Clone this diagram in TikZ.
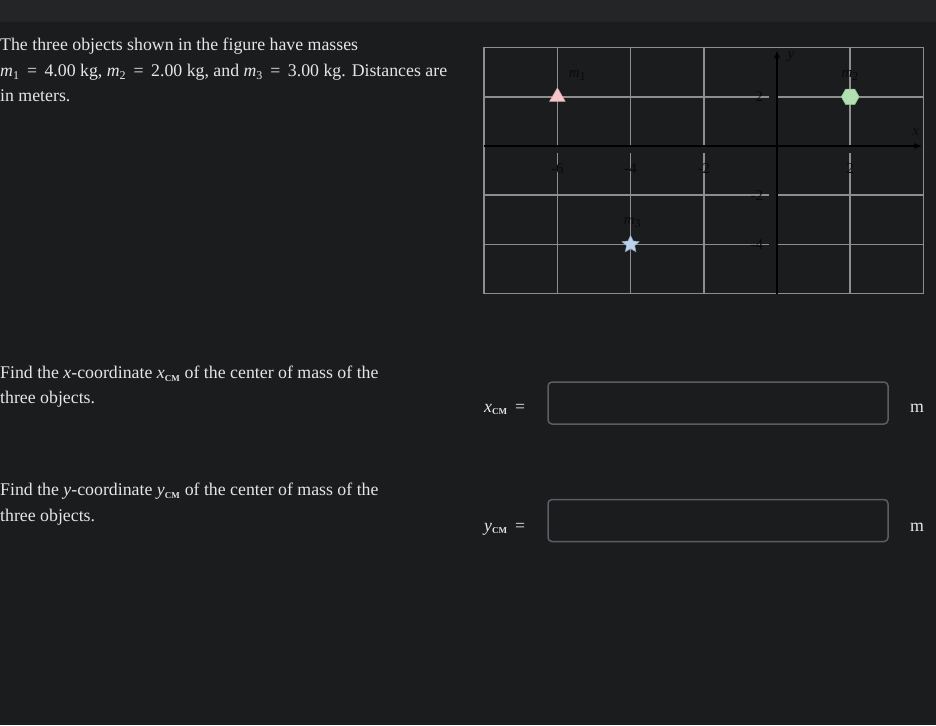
\documentclass[tikz,border=0pt]{standalone}
\usepackage{fontspec}
\setmainfont{Liberation Serif}
\usetikzlibrary{shapes.geometric,arrows.meta}
\definecolor{pagebg}{HTML}{1B1C1E}
\definecolor{topbar}{HTML}{242527}
\definecolor{txt}{HTML}{E6E6E6}
\definecolor{gridc}{HTML}{8E8E8E}
\definecolor{darktxt}{HTML}{0A0A0A}
\definecolor{boxc}{HTML}{5A5E63}
\definecolor{pinkf}{HTML}{F7C6C8}
\definecolor{pinkd}{HTML}{D9A2A6}
\definecolor{greenf}{HTML}{B2E0B2}
\definecolor{greend}{HTML}{8CBF8C}
\definecolor{bluef}{HTML}{BCD3EA}
\definecolor{blued}{HTML}{8EA7C2}
\newcommand\mv[2]{\textit{#1}\textsubscript{\fontsize{12}{12}\selectfont #2}}
\newcommand\cmv[1]{\textit{#1}\textsubscript{\fontsize{9}{9}\selectfont\bfseries CM}}
\newcommand\eqs{\hspace{0.42em}=\hspace{0.42em}}
\begin{document}
\begin{tikzpicture}[x=1pt,y=-1pt,
  body/.style={anchor=base west, text=txt, font=\fontsize{17.8}{20}\selectfont, inner sep=0pt},
  inbox/.style={draw=boxc, line width=1.5pt, rounded corners=4pt, minimum width=340pt, minimum height=42pt, inner sep=0pt},
  gridl/.style={draw=gridc, line width=1.6pt},
  axisl/.style={draw=black, line width=2.2pt},
  tick/.style={text=darktxt, font=\fontsize{15}{15}\selectfont, inner sep=0pt},
  mlab/.style={text=darktxt, font=\fontsize{15}{15}\selectfont, inner sep=0pt},
  tri/.style={regular polygon, regular polygon sides=3, minimum size=18pt, inner sep=0pt, fill=pinkf, draw=pinkd, line width=0.5pt},
  hexa/.style={regular polygon, regular polygon sides=6, minimum size=18pt, inner sep=0pt, fill=greenf, draw=greend, line width=0.5pt},
  starm/.style={star, star points=5, star point ratio=2.1, minimum size=18pt, inner sep=0pt, fill=bluef, draw=blued, line width=0.5pt}]
\useasboundingbox (0,0) rectangle (936,725);
\fill[pagebg] (0,0) rectangle (936,725);
\fill[topbar] (0,0) rectangle (936,22);
% problem text
\node[body] (t1) at (0,50.5) {The three objects shown in the figure have masses};
\node[body] (t2) at (0,76.5) {\mv{m}{1}\eqs 4.00 kg, \mv{m}{2}\eqs 2.00 kg, and \mv{m}{3}\eqs 3.00 kg. Distances are};
\node[body] (t3) at (0,101.5) {in meters.};
\node[body] (q1) at (0,378.5) {Find the \textit{x}-coordinate \cmv{x} of the center of mass of the};
\node[body] (q1b) at (0,403.5) {three objects.};
\node[body] (q2) at (0,495.5) {Find the \textit{y}-coordinate \cmv{y} of the center of mass of the};
\node[body] (q2b) at (0,521.5) {three objects.};
% answer rows
\node[body] (lx) at (484,412) {\cmv{x}\eqs};
\node[inbox] (bx) at (718,403) {};
\node[body] (ux) at (910,412) {m};
\node[body] (ly) at (484,531) {\cmv{y}\eqs};
\node[inbox] (by) at (718,520.5) {};
\node[body] (uy) at (910,531) {m};
% graph
\begin{scope}[shift={(777pt,-146pt)}, x=36.6pt, y=24.6pt]
  \foreach \gx in {-6,-4,-2,2} \draw[gridl] (\gx,-6) -- (\gx,4);
  \foreach \gy in {-4,-2,2} \draw[gridl] (-8,\gy) -- (4,\gy);
  \draw[gridl] (-8,-6) rectangle (4,4);
  \fill[pagebg] (-7.95,0) rectangle (3.95,-0.28);
  \fill[pagebg] (-0.22,-5.95) rectangle (0,3.95);
  \coordinate (xs) at (-8,0);
  \coordinate (xe) at (3.97,0);
  \coordinate (ys) at (0,-6);
  \coordinate (ye) at (0,3.9);
  \draw[axisl, -{Latex[length=8pt,width=6pt]}] (xs) -- (xe);
  \draw[axisl, -{Latex[length=8pt,width=6pt]}] (ys) -- (ye);
  \node[mlab, font=\fontsize{15}{15}\selectfont\itshape] (xl) at (3.79,0.57) {x};
  \node[mlab, font=\fontsize{15}{15}\selectfont\itshape] (yl) at (0.38,3.64) {y};
  \node[tick] (tx1) at (-6,-0.93) {-6};
  \node[tick] (tx2) at (-4,-0.93) {-4};
  \node[tick] (tx3) at (-2,-0.93) {-2};
  \node[tick] (tx4) at (2,-0.93) {2};
  \node[tick] (ty1) at (-0.49,2) {2};
  \node[tick] (ty2) at (-0.55,-2) {-2};
  \node[tick] (ty3) at (-0.55,-4) {-4};
  \node[tri] (p1) at (-6,2) {};
  \node[hexa] (p2) at (2,2) {};
  \node[starm] (p3) at (-4,-4) {};
  \node[mlab] (l1) at (-5.45,2.85) {\mv{m}{1}};
  \node[mlab] (l2) at (2.0,2.85) {\mv{m}{2}};
  \node[mlab] (l3) at (-3.95,-3.1) {\mv{m}{3}};
\end{scope}
\end{tikzpicture}
\end{document}
